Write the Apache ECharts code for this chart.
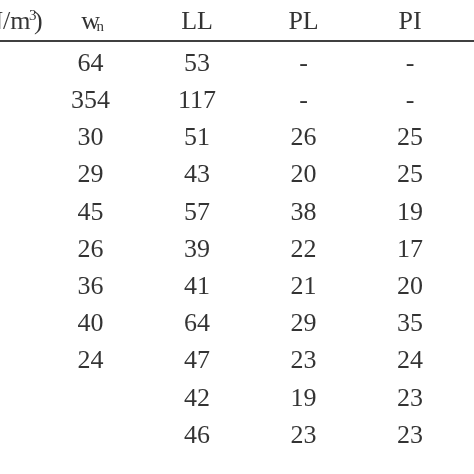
<!DOCTYPE html>
<html>
<head>
<meta charset="utf-8">
<script src="https://cdn.jsdelivr.net/npm/echarts@6/dist/echarts.min.js"></script>
<style>html,body{margin:0;padding:0;background:#fff}#main{width:474px;height:474px}</style>
</head>
<body>
<div id="main"></div>
<script>
// table columns (header labels) and their cell values, row by row
var headers = ['w', 'LL', 'PL', 'PI'];
var wn = [64, 354, 30, 29, 45, 26, 36, 40, 24, '', ''];
var LL = [53, 117, 51, 43, 57, 39, 41, 64, 47, 42, 46];
var PL = ['-', '-', 26, 20, 38, 22, 21, 29, 23, 19, 23];
var PI = ['-', '-', 25, 25, 19, 17, 20, 35, 24, 23, 23];

var columns = [wn, LL, PL, PI];
var cells = [];
columns.forEach(function (col, c) {
    col.forEach(function (v, r) {
        cells.push([c + 1, r + 1, String(v)]);
    });
});

var font = 'Liberation Serif';
var ink = '#000';

function txt(x, y, s, size, align) {
    return {
        value: [x, y, s],
        label: { fontSize: size, align: align || 'center' }
    };
}
// header row, incl. the cut-off unit column and the small sub/superscripts
var headerData = headers.map(function (h, i) { return txt(i + 1, -0.13, h, 26); });
headerData.push(txt(1.09, 0.02, 'n', 15));
headerData.push(txt(0.435, -0.13, '(kN/m', 26, 'right'));
headerData.push(txt(0.458, -0.3, '3', 15));
headerData.push(txt(0.51, -0.13, ')', 26));

var chart = echarts.init(document.getElementById('main'));
chart.setOption({
    animation: false,
    grid: { left: 0, right: 0, top: 0, bottom: 0 },
    xAxis: { type: 'value', min: 0.15, max: 4.6, show: false },
    yAxis: { type: 'value', min: -0.72, max: 12.02, inverse: true, show: false },
    series: [{
        type: 'scatter',
        symbolSize: 0,
        data: cells,
        label: {
            show: true, position: 'inside',
            formatter: function (p) { return p.data[2]; },
            fontFamily: font, fontSize: 26, color: ink
        },
        markLine: {
            silent: true, symbol: 'none',
            lineStyle: { color: ink, width: 1.6, type: 'solid' },
            label: { show: false },
            data: [[{ coord: [0.15, 0.382] }, { coord: [4.6, 0.382] }]]
        }
    }, {
        type: 'scatter',
        symbolSize: 0,
        data: headerData,
        label: {
            show: true, position: 'inside',
            formatter: function (p) { return p.value[2]; },
            fontFamily: font, color: ink
        }
    }]
});
</script>
</body>
</html>
